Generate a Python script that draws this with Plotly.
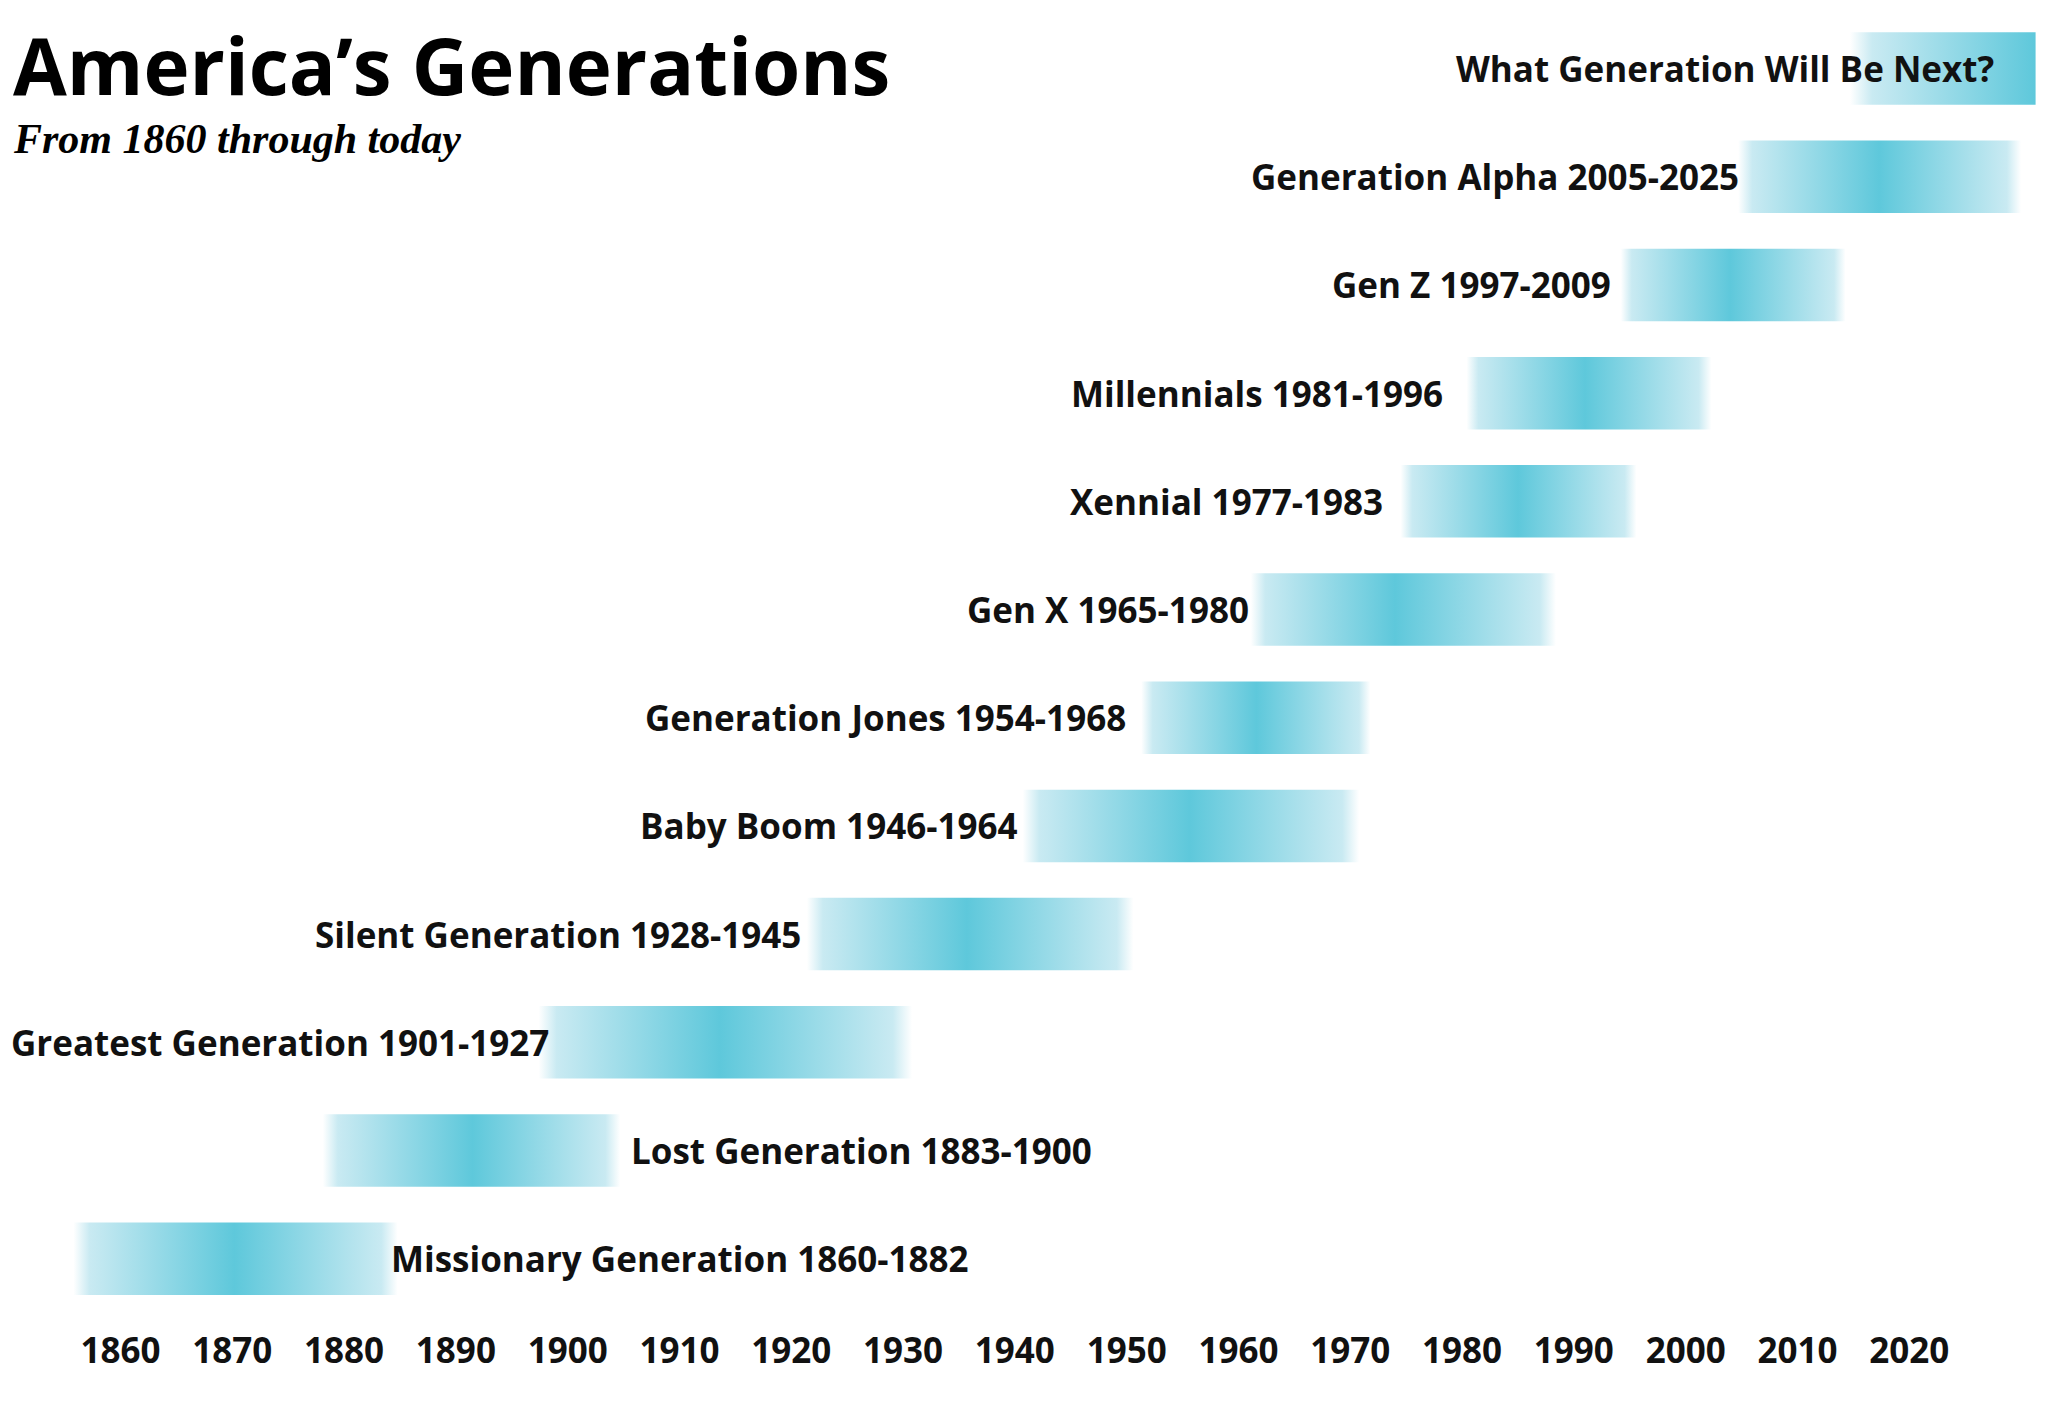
import plotly.graph_objects as go

# ---------------- data ----------------
names = [
    "Missionary Generation", "Lost Generation", "Greatest Generation",
    "Silent Generation", "Baby Boom", "Generation Jones", "Gen X",
    "Xennial", "Millennials", "Gen Z", "Generation Alpha",
    "What Generation Will Be Next?",
]
start_years = [1860, 1883, 1901, 1928, 1946, 1954, 1965, 1977, 1981, 1997, 2005, None]
end_years = [1882, 1900, 1927, 1945, 1964, 1968, 1980, 1983, 1996, 2009, 2025, None]

# extents of the drawn (blurred) bars, in years
bar_start = [1855.8, 1878.1, 1897.4, 1921.4, 1940.7, 1951.3, 1961.1, 1974.5, 1980.4, 1994.2, 2004.7, 2014.7]
bar_end = [1884.8, 1904.7, 1930.8, 1950.6, 1970.8, 1971.8, 1988.4, 1995.6, 2002.3, 2014.3, 2030.0, 2031.3]
bar_peak = [1870.2, 1891.5, 1913.6, 1935.7, 1955.6, 1961.6, 1974.0, 1985.0, 1991.0, 2004.0, 2017.3, 2031.3]
label_side = ["after", "after", "before", "before", "before", "before", "before",
              "before", "before", "before", "before", "inside"]

tick_years = [1860, 1870, 1880, 1890, 1900, 1910, 1920, 1930, 1940, 1950,
              1960, 1970, 1980, 1990, 2000, 2010, 2020]

title_text = "America’s Generations"
subtitle_text = "From 1860 through today"

# ---------------- styling ----------------
# the page body adds an 8px margin, so the figure is drawn 8px smaller
W, H = 2040, 1395
MB = 100
PLOT_H = H - MB
TEAL = "#5ec8db"
LIGHT = "#c9eaf2"
LABEL_FONT = dict(family="Open Sans", size=35, color="#111111", weight=700)
HALF = 0.335
# per-label horizontal nudge (pixels) relative to the bar edge
LABEL_XSHIFT = [-9, 9, 12, -4, -4, -13, 0, -16, -22, -8, 3, -40]


def gradient(s, e, p):
    f = (p - s) / (e - s)
    f = min(max(f, 0.0), 1.0)
    if f >= 0.999:
        return [[0.0, "rgba(255,255,255,1)"], [0.12, LIGHT], [1.0, TEAL]]
    return [[0.0, "rgba(255,255,255,1)"], [0.1 * f, LIGHT], [f, TEAL],
            [f + 0.9 * (1 - f), LIGHT], [1.0, "rgba(255,255,255,1)"]]


fig = go.Figure()
annotations = []
for i, name in enumerate(names):
    s, e, p = bar_start[i], bar_end[i], bar_peak[i]
    fig.add_trace(go.Scatter(
        x=[s, e, e, s, s],
        y=[i - HALF, i - HALF, i + HALF, i + HALF, i - HALF],
        mode="lines", line=dict(width=0, color="rgba(0,0,0,0)"),
        fill="toself",
        fillgradient=dict(type="horizontal", colorscale=gradient(s, e, p)),
        hoverinfo="skip", showlegend=False,
    ))
    if start_years[i] is not None:
        text = f"{name} {start_years[i]}-{end_years[i]}"
    else:
        text = name
    side = label_side[i]
    if side == "after":
        ax, anchor = e, "left"
    elif side == "before":
        ax, anchor = s, "right"
    else:
        ax, anchor = e, "right"
    annotations.append(dict(x=ax, y=i, xref="x", yref="y", text=text, showarrow=False,
                            xanchor=anchor, yanchor="middle", xshift=LABEL_XSHIFT[i],
                            font=LABEL_FONT))

# title and subtitle (pixel positions converted to paper coordinates)
annotations.append(dict(x=4 / W, y=(PLOT_H - 57) / PLOT_H, xref="paper", yref="paper",
                        text=title_text, showarrow=False, xanchor="left", yanchor="middle",
                        borderpad=0,
                        font=dict(family="Open Sans", size=78, color="#000000", weight=700)))
annotations.append(dict(x=4 / W, y=(PLOT_H - 131) / PLOT_H, xref="paper", yref="paper",
                        text=subtitle_text, showarrow=False, xanchor="left", yanchor="middle",
                        borderpad=0,
                        font=dict(family="Liberation Serif", size=42, color="#000000",
                                  weight=700, style="italic")))

fig.update_layout(
    width=W, height=H,
    margin=dict(l=0, r=0, t=0, b=MB, pad=0),
    paper_bgcolor="white", plot_bgcolor="white",
    annotations=annotations,
    xaxis=dict(range=[1849.94, 2032.41], tickvals=tick_years,
               ticktext=[str(t) for t in tick_years],
               showgrid=False, zeroline=False, showline=False, ticks="",
               ticklabelstandoff=24,
               tickfont=dict(family="Open Sans", size=35, color="#111111", weight=700),
               fixedrange=True),
    yaxis=dict(range=[-0.41, 11.56], visible=False, fixedrange=True),
    showlegend=False,
)

fig.write_html("out.html")
